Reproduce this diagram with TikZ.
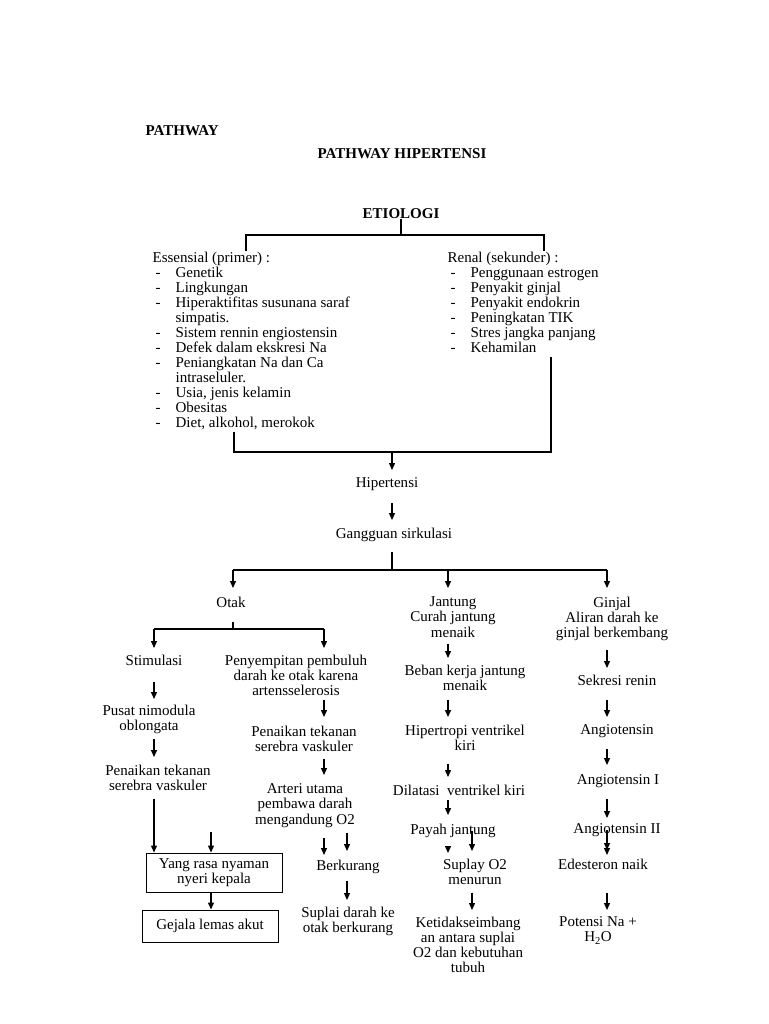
\documentclass[tikz,border=0pt]{standalone}
\usepackage{fontspec}
\setmainfont{Liberation Serif}
\usetikzlibrary{arrows.meta}
\tikzset{
  txt/.style={inner sep=0pt, anchor=north, align=center},
  ttl/.style={inner sep=0pt, anchor=north, font=\fontsize{15}{15.3}\selectfont\bfseries},
  arr/.style={-{Triangle[length=7pt,width=6pt]}},
  frame/.style={draw, line width=1pt, inner sep=0pt, minimum width=136pt, align=center},
}
\def\lst{\renewcommand\arraystretch{0.98}}

\begin{document}
\begin{tikzpicture}[x=1pt, y=-1pt, line width=1.3pt, font=\fontsize{15}{15.3}\selectfont]
	\useasboundingbox (0,0) rectangle (768,1024);
	%%%%% TITLES %%%%%
	\node[ttl, anchor=north west] (pw) at (145,125) {PATHWAY};
	\node[ttl] (pwh) at (402,148) {PATHWAY HIPERTENSI};
	\node[ttl] (etio) at (401,208) {ETIOLOGI};
	
	%%%%% ETIOLOGI %%%%%
	\node[inner sep=0pt, anchor=north west] (ess) at (152,251) {\lst
		\begin{tabular}{@{\hspace{3pt}}p{20pt}@{}l@{}}
			\multicolumn{2}{@{}l@{}}{Essensial (primer) :}\\
			- & Genetik\\
			- & Lingkungan\\
			- & Hiperaktifitas susunana saraf\\
			  & simpatis.\\
			- & Sistem rennin engiostensin\\
			- & Defek dalam ekskresi Na\\
			- & Peniangkatan Na dan Ca\\
			  & intraseluler.\\
			- & Usia, jenis kelamin\\
			- & Obesitas\\
			- & Diet, alkohol, merokok
		\end{tabular}};
	\node[inner sep=0pt, anchor=north west] (ren) at (447,251) {\lst
		\begin{tabular}{@{\hspace{3pt}}p{20pt}@{}l@{}}
			\multicolumn{2}{@{}l@{}}{Renal (sekunder) :}\\
			- & Penggunaan estrogen\\
			- & Penyakit ginjal\\
			- & Penyakit endokrin\\
			- & Peningkatan TIK\\
			- & Stres jangka panjang\\
			- & Kehamilan
		\end{tabular}};
	
	\coordinate (tl) at (246,235);
	\coordinate (tr) at (544,235);
	\draw (etio.south) -- (etio.south |- tl);
	\draw (tl |- ess.north) -- (tl) -- (tr) -- (tr |- ren.north);
	
	\coordinate (jl) at (234,452);
	\coordinate (jr) at (551,452);
	\coordinate (jm) at (392,452);
	\draw (jl |- ess.south) -- (jl) -- (jr) -- (jr |- ren.south);
	
	%%%%% MAIN %%%%%
	\node[txt] (hip) at (387,477) {Hipertensi};
	\node[txt] (gang) at (394,527) {Gangguan sirkulasi};
	\draw[arr, shorten >=7pt] (jm) -- (hip.north -| jm);
	\draw[arr, shorten <=11.5pt, shorten >=7pt] (hip.south -| jm) -- (gang.north -| jm);
	
	\coordinate (jb) at (392,570);
	\coordinate (bl) at (233,570);
	\coordinate (br) at (607,570);
	\coordinate (cA) at (154,0);
	\coordinate (cB) at (324,0);
	\coordinate (cBx) at (347,0);
	\coordinate (cY) at (211,832);
	\coordinate (cJ) at (448,0);
	\coordinate (cJx) at (472,0);
	\coordinate (cG) at (607,0);
	\draw[shorten <=10.5pt] (gang.south -| jb) -- (jb);
	\draw (bl) -- (br);
	
	\node[txt] (otak) at (231,596) {Otak};
	\node[txt] (jant) at (453,596) {Jantung\\Curah jantung\\menaik};
	\node[txt] (ginj) at (612,596) {Ginjal\\Aliran darah ke\\ginjal berkembang};
	\draw[arr, shorten >=8pt] (bl) -- (otak.north -| bl);
	\draw[arr, shorten >=8pt] (cJ |- jb) -- (jant.north -| cJ);
	\draw[arr, shorten >=8pt] (br) -- (ginj.north -| br);
	
	%%%%% OTAK %%%%%
	\coordinate (ob) at (233,629);
	\draw[shorten <=14pt] (otak.south -| ob) -- (ob);
	\draw (cA |- ob) -- (cB |- ob);
	
	\node[txt] (stim) at (154,654) {Stimulasi};
	\node[txt] (peny) at (296,654) {Penyempitan pembuluh\\darah ke otak karena\\artensselerosis};
	\node[txt] (pusat) at (149,704) {Pusat nimodula\\oblongata};
	\node[txt] (pen1) at (158,764) {Penaikan tekanan\\serebra vaskuler};
	\node[txt] (pen2) at (304,725) {Penaikan tekanan\\serebra vaskuler};
	\node[txt] (arteri) at (305,783) {Arteri utama\\pembawa darah\\mengandung O2};
	\node[frame, minimum height=39pt] (yang) at (214,872.5) {Yang rasa nyaman\\nyeri kepala};
	\node[frame, minimum height=32pt] (gejala) at (210,926) {Gejala lemas akut};
	\node[txt] (berk) at (348,859) {Berkurang};
	\node[txt] (supd) at (348,906) {Suplai darah ke\\otak berkurang};
	
	\draw[arr, shorten >=6pt] (cA |- ob) -- (stim.north -| cA);
	\draw[arr, shorten >=6pt] (cB |- ob) -- (peny.north -| cB);
	\draw[arr, shorten <=15.8pt, shorten >=5pt] (stim.south -| cA) -- (pusat.north -| cA);
	\draw[arr, shorten <=5.2pt, shorten >=7pt] (pusat.south -| cA) -- (pen1.north -| cA);
	\draw[arr, shorten <=7.5pt] (pen1.south -| cA) -- (yang.north -| cA);
	\draw[arr] (cY) -- (yang.north -| cY);
	\draw[arr] (yang.south -| cY) -- (gejala.north -| cY);
	
	\draw[arr, shorten <=3.2pt, shorten >=8pt] (peny.south -| cB) -- (pen2.north -| cB);
	\draw[arr, shorten <=6.5pt, shorten >=8pt] (pen2.south -| cB) -- (arteri.north -| cB);
	\draw[arr, shorten <=10pt, shorten >=4pt] (arteri.south -| cB) -- (berk.north -| cB);
	\draw[arr, shorten <=5pt, shorten >=8pt] (arteri.south -| cBx) -- (berk.north -| cBx);
	\draw[arr, shorten <=7.5pt, shorten >=6pt] (berk.south -| cBx) -- (supd.north -| cBx);
	
	%%%%% JANTUNG %%%%%
	\node[txt] (beban) at (465,664) {Beban kerja jantung\\menaik};
	\node[txt] (hiper) at (465,724) {Hipertropi ventrikel\\kiri};
	\node[txt] (dil) at (459,784) {Dilatasi \ ventrikel kiri};
	\node[txt] (payah) at (453,823) {Payah jantung};
	\node[txt] (suplay) at (475,858) {Suplay O2\\menurun};
	\node[txt] (ketid) at (468,916) {Ketidakseimbang\\an antara suplai\\O2 dan kebutuhan\\tubuh};
	
	\draw[arr, shorten <=6pt, shorten >=6pt] (jant.south -| cJ) -- (beban.north -| cJ);
	\draw[arr, shorten <=8.5pt, shorten >=7pt] (beban.south -| cJ) -- (hiper.north -| cJ);
	\draw[arr, shorten <=12.5pt, shorten >=7pt] (hiper.south -| cJ) -- (dil.north -| cJ);
	\draw[arr, shorten <=4pt, shorten >=8pt] (dil.south -| cJ) -- (payah.north -| cJ);
	\draw[arr, shorten <=10pt, shorten >=5pt] (payah.south -| cJ) -- (suplay.north -| cJ);
	\draw[arr, shorten <=8pt, shorten >=7pt] (payah.north -| cJx) -- (suplay.north -| cJx);
	\draw[arr, shorten <=7.5pt, shorten >=6pt] (suplay.south -| cJx) -- (ketid.north -| cJx);
	
	%%%%% GINJAL %%%%%
	\node[txt] (sekr) at (617,674) {Sekresi renin};
	\node[txt] (ang) at (617,724) {Angiotensin};
	\node[txt] (ang1) at (618,774) {Angiotensin I};
	\node[txt] (ang2) at (617,823) {Angiotensin II};
	\node[txt] (edes) at (603,858) {Edesteron naik};
	\node[txt] (pot) at (598,916) {Potensi Na +\\H\textsubscript{2}O};
	
	\draw[arr, shorten <=8pt, shorten >=6pt] (ginj.south -| cG) -- (sekr.north -| cG);
	\draw[arr, shorten <=13.8pt, shorten >=7pt] (sekr.south -| cG) -- (ang.north -| cG);
	\draw[arr, shorten <=10.5pt, shorten >=9pt] (ang.south -| cG) -- (ang1.north -| cG);
	\draw[arr, shorten <=10.5pt, shorten >=5pt] (ang1.south -| cG) -- (ang2.north -| cG);
	\draw[arr, shorten <=7pt, shorten >=8pt] (ang2.north -| cG) -- (edes.north -| cG);
	\draw[arr, shorten <=7pt, shorten >=3pt] (ang2.north -| cG) -- (edes.north -| cG);
	\draw[arr, shorten <=22.8pt, shorten >=6pt] (edes.south -| cG) -- (pot.north -| cG);
\end{tikzpicture}
\end{document}
